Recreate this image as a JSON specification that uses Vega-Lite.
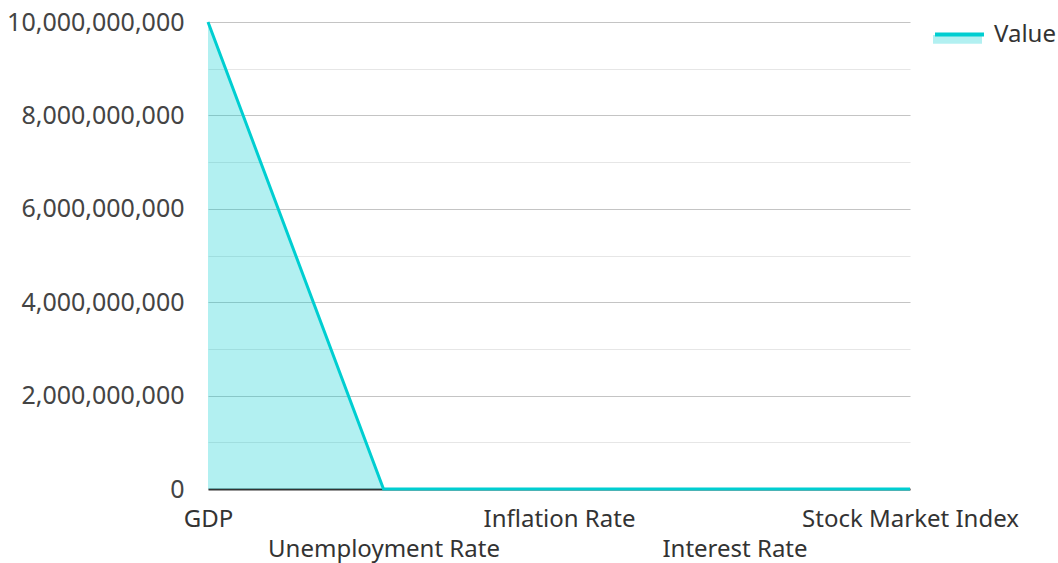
{
  "$schema": "https://vega.github.io/schema/vega-lite/v6.json",
  "width": 702,
  "height": 467,
  "autosize": "none",
  "padding": {"left": 208, "top": 22, "right": 148, "bottom": 74},
  "config": {
    "font": "Noto Sans",
    "view": {"stroke": null}
  },
  "data": {
    "values": [
      {"Indicator": "GDP", "Value": 10000000000},
      {"Indicator": "Unemployment Rate", "Value": 5},
      {"Indicator": "Inflation Rate", "Value": 2},
      {"Indicator": "Interest Rate", "Value": 3},
      {"Indicator": "Stock Market Index", "Value": 35000}
    ]
  },
  "encoding": {
    "x": {
      "field": "Indicator",
      "type": "ordinal",
      "sort": null,
      "scale": {"type": "point", "padding": 0},
      "axis": {
        "title": null,
        "labelAngle": 0,
        "labelFontSize": 24,
        "labelColor": "#333333",
        "labelPadding": 18,
        "labelBaseline": "top",
        "labelLimit": 0,
        "labelOverlap": false,
        "labelLineHeight": 30,
        "labelExpr": "indexof(['Unemployment Rate','Interest Rate'], datum.value) >= 0 ? ['', datum.value] : datum.value",
        "ticks": false,
        "domainColor": "#333333",
        "domainWidth": 2,
        "grid": false
      }
    },
    "y": {
      "field": "Value",
      "type": "quantitative",
      "scale": {"domain": [0, 10000000000], "nice": false},
      "axis": {
        "title": null,
        "values": [0, 1000000000, 2000000000, 3000000000, 4000000000, 5000000000, 6000000000, 7000000000, 8000000000, 9000000000, 10000000000],
        "labelExpr": "datum.value % 2000000000 == 0 ? format(datum.value, ',') : ''",
        "labelFontSize": 25,
        "labelColor": "#444444",
        "labelPadding": 24,
        "labelLimit": 0,
        "ticks": false,
        "domain": false,
        "gridColor": {"condition": {"test": "datum.value % 2000000000 == 0", "value": "#c4c4c4"}, "value": "#e6e6e6"},
        "gridWidth": 1.2
      }
    }
  },
  "layer": [
    {
      "mark": {"type": "area", "fillOpacity": 0.3, "line": false},
      "encoding": {
        "fill": {
          "datum": "Value area",
          "type": "nominal",
          "scale": {"range": ["#00ced1"]},
          "legend": {
            "title": null,
            "orient": "none",
            "legendX": 725,
            "legendY": -14,
            "symbolType": "M-1,0.1H1V0.46H-1Z",
            "symbolSize": 2400,
            "symbolOpacity": 0.3,
            "symbolStrokeWidth": 0,
            "labelFontSize": 24,
            "labelExpr": "''",
            "labelOffset": 8
          }
        }
      }
    },
    {
      "mark": {"type": "line", "strokeWidth": 3},
      "encoding": {
        "color": {
          "datum": "Value",
          "type": "nominal",
          "scale": {"range": ["#00ced1"]},
          "legend": {
            "title": null,
            "orient": "none",
            "legendX": 725,
            "legendY": -14,
            "symbolType": "stroke",
            "symbolStrokeWidth": 4,
            "symbolSize": 2400,
            "labelFontSize": 24,
            "labelColor": "#333333",
            "labelOffset": 8
          }
        }
      }
    }
  ]
}
